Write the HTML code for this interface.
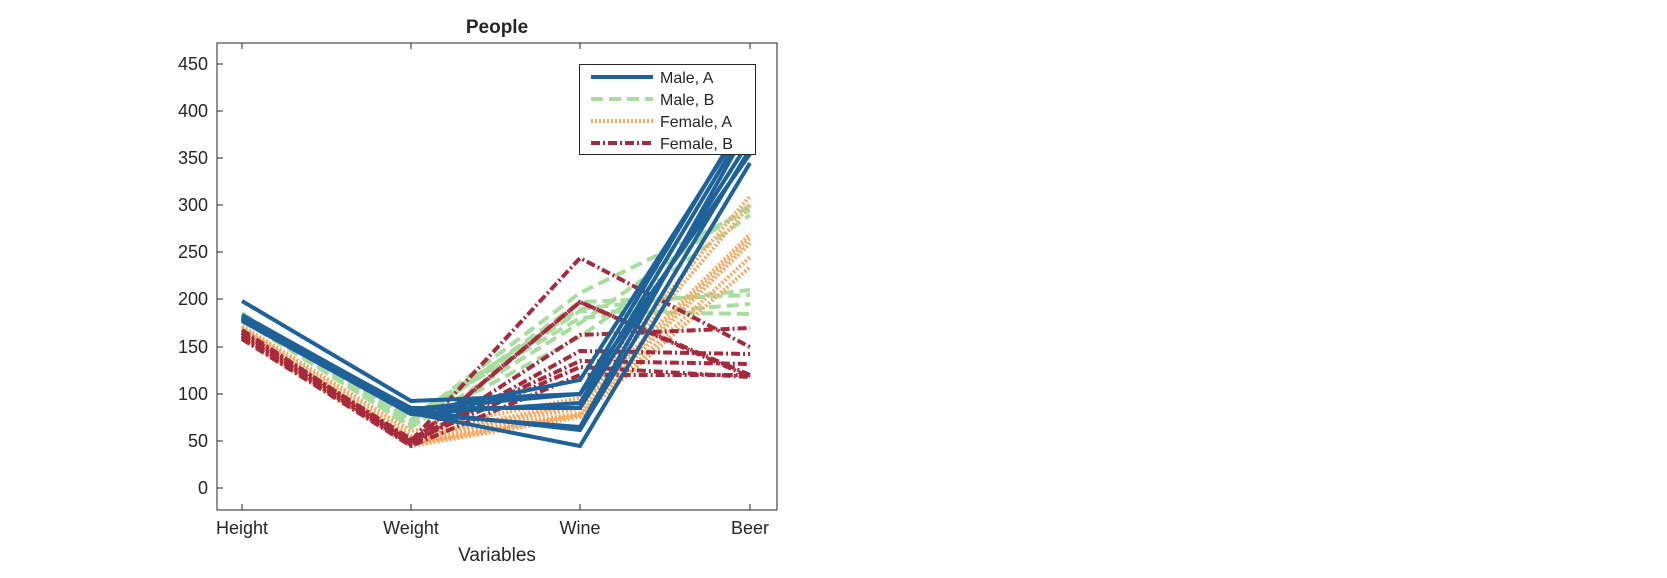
<!DOCTYPE html>
<html><head><meta charset="utf-8"><style>
html,body{margin:0;padding:0;background:#fff;}
svg text{font-family:"Liberation Sans",Arial,sans-serif;fill:#262626;}
</style></head><body>
<svg width="1667" height="573" viewBox="0 0 1667 573" xmlns="http://www.w3.org/2000/svg">
<defs><clipPath id="c"><rect x="217" y="43" width="560" height="467"/></clipPath></defs>
<rect x="217" y="43" width="560" height="467" fill="#fff"/>
<g clip-path="url(#c)" fill="none" stroke-width="4" stroke-linejoin="miter">
<g stroke="#a9dd9f" stroke-dasharray="12,6">
<polyline points="242,313 411,420 580,293 750,210"/>
<polyline points="242,315 411,424 580,302 750,295"/>
<polyline points="242,317 411,422 580,311 750,314"/>
<polyline points="242,318 411,418 580,318 750,304"/>
<polyline points="242,320 411,426 580,337 750,215"/>
<polyline points="242,316 411,417 580,309 750,290"/>
<polyline points="242,317 411,427 580,323 750,205"/>
</g>
<g stroke="#fca55d" stroke-dasharray="2,2">
<polyline points="242,326 411,431 580,398 750,196"/>
<polyline points="242,330 411,441 580,408 750,238"/>
<polyline points="242,333 411,443 580,413 750,243"/>
<polyline points="242,337 411,446 580,417 750,267"/>
<polyline points="242,328 411,436 580,403 750,234"/>
<polyline points="242,334 411,439 580,405 750,205"/>
<polyline points="242,339 411,444 580,415 750,257"/>
</g>
<g stroke="#a52a3e" stroke-dasharray="9,3,2,3">
<polyline points="242,330 411,441 580,258 750,347"/>
<polyline points="242,333 411,443 580,302 750,377"/>
<polyline points="242,335 411,445 580,335 750,328"/>
<polyline points="242,337 411,444 580,351 750,354"/>
<polyline points="242,332 411,439 580,361 750,364"/>
<polyline points="242,339 411,446 580,375 750,375"/>
<polyline points="242,333 411,441 580,367 750,377"/>
<polyline points="242,336 411,442 580,302 750,375"/>
</g>
<g stroke="#1f6199">
<polyline points="242,301 411,401 580,394 750,110"/>
<polyline points="242,317 411,413 580,446 750,163"/>
<polyline points="242,318 411,411 580,430 750,149"/>
<polyline points="242,320 411,414 580,427 750,125"/>
<polyline points="242,317 411,408 580,408 750,140"/>
<polyline points="242,319 411,413 580,380 750,115"/>
<polyline points="242,315 411,409 580,394 750,154"/>
<polyline points="242,321 411,414 580,403 750,120"/>
</g>
</g>
<rect x="217" y="43" width="560" height="467" fill="none" stroke="#262626" stroke-width="1"/>
<g stroke="#262626" stroke-width="1">
<line x1="217" y1="64" x2="223" y2="64"/><line x1="217" y1="111" x2="223" y2="111"/>
<line x1="217" y1="158" x2="223" y2="158"/><line x1="217" y1="205" x2="223" y2="205"/>
<line x1="217" y1="252" x2="223" y2="252"/><line x1="217" y1="299" x2="223" y2="299"/>
<line x1="217" y1="347" x2="223" y2="347"/><line x1="217" y1="394" x2="223" y2="394"/>
<line x1="217" y1="441" x2="223" y2="441"/><line x1="217" y1="488" x2="223" y2="488"/>
<line x1="242" y1="510" x2="242" y2="504"/><line x1="411" y1="510" x2="411" y2="504"/>
<line x1="580" y1="510" x2="580" y2="504"/><line x1="750" y1="510" x2="750" y2="504"/>
<line x1="242" y1="43" x2="242" y2="49"/><line x1="411" y1="43" x2="411" y2="49"/>
<line x1="580" y1="43" x2="580" y2="49"/><line x1="750" y1="43" x2="750" y2="49"/>
</g>
<g font-size="18" text-anchor="end">
<text x="208" y="70">450</text><text x="208" y="117">400</text><text x="208" y="164">350</text>
<text x="208" y="211">300</text><text x="208" y="258">250</text><text x="208" y="305">200</text>
<text x="208" y="353">150</text><text x="208" y="400">100</text><text x="208" y="447">50</text>
<text x="208" y="494">0</text>
</g>
<g font-size="18" text-anchor="middle">
<text x="242" y="534">Height</text><text x="411" y="534">Weight</text>
<text x="580" y="534">Wine</text><text x="750" y="534">Beer</text>
<text x="497" y="561" font-size="19">Variables</text>
<text x="497" y="33" font-size="19" font-weight="bold" fill="#000">People</text>
</g>
<rect x="579.5" y="64.5" width="176" height="90" fill="#fff" stroke="#262626" stroke-width="1"/>
<g stroke-width="4">
<line x1="591" y1="77" x2="653" y2="77" stroke="#1f6199"/>
<line x1="591" y1="99" x2="653" y2="99" stroke="#a9dd9f" stroke-dasharray="12,6"/>
<line x1="591" y1="121" x2="653" y2="121" stroke="#fca55d" stroke-dasharray="2,2"/>
<line x1="591" y1="143" x2="653" y2="143" stroke="#a52a3e" stroke-dasharray="9,3,2,3"/>
</g>
<g font-size="16">
<text x="660" y="83" fill="#000">Male, A</text>
<text x="660" y="105" fill="#000">Male, B</text>
<text x="660" y="127" fill="#000">Female, A</text>
<text x="660" y="149" fill="#000">Female, B</text>
</g>
</svg>
</body></html>
